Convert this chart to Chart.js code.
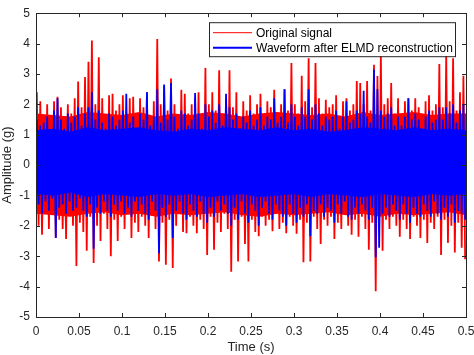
<!DOCTYPE html>
<html>
<head>
<meta charset="utf-8">
<script src="https://cdn.jsdelivr.net/npm/chart.js@4"></script>
<style>
  html, body { margin: 0; padding: 0; background: #fff; }
  #c { display: block; }
</style>
</head>
<body>
<canvas id="c" width="474" height="355"></canvas>
<script>
// ---- Data ----
const binWidth = 0.004;  // seconds per peak/trough bin
const bodyStep = 0.02;   // seconds per solid-body level reading
const xTicks = [0, 0.05, 0.1, 0.15, 0.2, 0.25, 0.3, 0.35, 0.4, 0.45, 0.5];
const yTicks = [-5, -4, -3, -2, -1, 0, 1, 2, 3, 4, 5];
const seriesLabels = ["Original signal", "Waveform after ELMD reconstruction"];

// Original signal: positive and negative peaks per bin
const origHigh = [
  2.4, 2.1, 1.5, 2.0, 1.3, 2.1, 2.25, 1.9, 1.2, 2.0,
  1.7, 2.2, 2.75, 1.9, 2.9, 3.4, 4.1, 2.0, 3.55, 2.2,
  1.6, 2.3, 2.35, 1.8, 2.0, 2.3, 1.7, 2.2, 2.25, 1.6,
  2.2, 1.9, 2.4, 1.6, 2.1, 4.15, 2.0, 2.6, 1.8, 2.85,
  2.0, 1.6, 2.48, 2.35, 1.7, 2.0, 2.2, 2.4, 1.6, 3.2,
  2.0, 2.4, 1.8, 3.12, 1.7, 2.2, 3.12, 1.9, 2.4, 1.5,
  2.1, 1.8, 2.3, 1.7, 2.0, 2.35, 1.6, 2.1, 1.9, 2.48,
  1.7, 2.0, 2.5, 1.8, 3.36, 2.0, 1.7, 2.94, 2.1, 3.52,
  1.9, 3.36, 2.2, 1.7, 2.15, 1.9, 2.0, 2.3, 1.6, 2.1,
  2.2, 1.8, 2.0, 2.77, 2.7, 2.0, 2.77, 1.8, 3.3, 2.93,
  3.63, 2.0, 2.2, 2.7, 1.7, 2.2, 1.6, 2.1, 2.2, 1.8,
  2.2, 1.9, 1.6, 2.1, 2.3, 1.8, 2.0, 3.33, 1.9, 3.6,
  2.1, 3.52, 1.8, 2.4, 2.94
];
const origLow = [
  -2.0, -2.29, -1.6, -2.1, -1.5, -2.4, -1.8, -2.1, -2.43, -1.6,
  -2.0, -3.32, -1.9, -2.2, -2.82, -1.7, -3.22, -2.0, -2.5, -1.6,
  -2.1, -3.0, -1.8, -2.5, -1.7, -2.1, -1.6, -2.4, -1.9, -2.2,
  -1.7, -2.0, -2.4, -1.6, -2.1, -3.17, -1.9, -3.28, -1.8, -3.39,
  -2.0, -1.6, -2.2, -2.24, -1.7, -2.0, -2.24, -1.8, -2.1, -2.96,
  -1.7, -2.79, -1.9, -2.2, -1.6, -2.1, -3.51, -1.8, -3.17, -1.7,
  -2.6, -3.17, -1.8, -2.2, -2.34, -1.7, -2.0, -1.8, -2.18, -1.6,
  -2.1, -1.9, -2.24, -1.7, -2.0, -2.26, -1.8, -3.2, -1.9, -3.17,
  -1.7, -2.1, -2.6, -1.8, -2.0, -1.7, -2.43, -1.9, -2.1, -1.6,
  -2.0, -2.29, -1.8, -2.36, -1.7, -2.1, -2.79, -1.9, -4.15, -2.0,
  -2.82, -1.8, -2.1, -1.7, -2.0, -2.36, -1.8, -2.1, -2.43, -1.7,
  -2.0, -2.4, -1.8, -2.56, -1.9, -2.1, -1.7, -2.96, -1.8, -2.56,
  -2.0, -2.88, -1.9, -2.72, -3.1
];

// Reconstructed waveform: positive and negative peaks per bin
const recHigh = [
  1.5, 1.3, 1.4, 1.6, 1.1, 1.8, 2.2, 1.5, 1.2, 1.7,
  1.4, 1.6, 1.9, 1.3, 1.7, 1.9, 2.4, 1.5, 1.8, 1.4,
  1.2, 1.7, 1.6, 1.3, 1.5, 1.8, 2.35, 1.4, 1.6, 1.2,
  1.7, 1.5, 2.4, 1.3, 1.6, 2.5, 1.4, 2.65, 1.5, 2.7,
  1.6, 1.2, 1.8, 1.7, 1.3, 1.5, 2.37, 1.7, 1.2, 2.0,
  1.6, 1.8, 1.4, 2.0, 1.3, 2.35, 1.9, 1.5, 1.7, 1.2,
  1.6, 1.4, 1.8, 1.3, 1.5, 1.9, 1.3, 1.6, 1.5, 2.2,
  1.4, 1.6, 2.5, 1.4, 2.0, 1.6, 1.3, 1.9, 1.6, 2.5,
  1.5, 2.0, 1.7, 1.3, 1.6, 1.5, 1.6, 1.8, 1.2, 1.6,
  2.1, 1.4, 1.5, 1.8, 1.7, 2.45, 1.6, 1.4, 3.15, 2.5,
  1.8, 1.6, 1.7, 1.9, 1.3, 1.6, 1.3, 1.6, 2.2, 1.5,
  1.7, 1.5, 1.2, 1.6, 1.8, 1.4, 1.5, 1.9, 1.5, 1.9,
  1.7, 2.0, 1.4, 1.8, 2.0
];
const recLow = [
  -1.3, -1.6, -1.2, -1.5, -1.1, -2.4, -1.4, -1.3, -1.6, -1.2,
  -1.5, -1.4, -1.1, -1.5, -1.7, -1.3, -2.75, -1.4, -1.6, -1.2,
  -1.5, -1.7, -1.3, -1.5, -1.2, -1.6, -1.4, -1.7, -1.2, -1.5,
  -1.3, -1.6, -1.8, -1.2, -1.5, -2.9, -1.4, -1.7, -1.3, -2.4,
  -1.5, -1.2, -1.6, -1.8, -1.3, -1.5, -1.7, -1.2, -1.6, -1.9,
  -1.4, -1.7, -1.2, -1.5, -1.3, -1.6, -2.0, -1.4, -1.8, -1.2,
  -1.6, -1.9, -1.3, -1.5, -2.0, -1.4, -1.2, -1.6, -1.8, -1.3,
  -1.5, -1.7, -2.0, -1.3, -1.6, -1.9, -1.4, -1.7, -1.3, -2.34,
  -1.5, -1.6, -1.3, -1.7, -1.4, -1.5, -1.9, -1.3, -1.6, -1.2,
  -1.7, -1.8, -1.4, -1.6, -1.3, -1.5, -1.8, -1.4, -3.03, -2.72,
  -1.6, -1.4, -1.7, -1.3, -1.5, -1.8, -1.3, -1.6, -1.9, -1.4,
  -1.6, -1.7, -1.3, -1.5, -1.7, -1.2, -1.6, -1.8, -1.4, -1.7,
  -1.3, -1.9, -1.5, -1.6, -1.8
];

// Levels up to which each trace looks solid (dense oscillation), every 0.02 s
const origBodyTop = [1.7, 1.65, 1.6, 1.75, 1.7, 1.65, 1.75, 1.6, 1.7, 1.65, 1.75, 1.7, 1.6,
                     1.7, 1.75, 1.7, 1.65, 1.7, 1.6, 1.75, 1.65, 1.7, 1.75, 1.65, 1.7, 1.7];
const origBodyBottom = [-1.6, -1.65, -1.7, -1.6, -1.55, -1.65, -1.6, -1.7, -1.6, -1.65, -1.6, -1.55, -1.65,
                        -1.7, -1.6, -1.65, -1.6, -1.55, -1.65, -1.6, -1.7, -1.6, -1.65, -1.6, -1.55, -1.65];
const recBodyTop = [1.15, 1.2, 1.1, 1.25, 1.15, 1.2, 1.25, 1.15, 1.1, 1.2, 1.15, 1.25, 1.2,
                    1.15, 1.25, 1.15, 1.2, 1.1, 1.15, 1.25, 1.2, 1.15, 1.25, 1.15, 1.2, 1.15];
const recBodyBottom = [-0.95, -1.0, -0.9, -1.05, -0.95, -1.0, -1.05, -0.95, -1.0, -0.95, -1.05, -1.0, -0.95,
                       -1.05, -1.0, -0.95, -1.05, -0.95, -1.0, -1.05, -0.95, -1.0, -1.05, -0.95, -1.0, -0.95];

// Alternating peak/trough points: positive peak early in the bin, negative late
function buildPoints(highs, lows) {
  const pts = [];
  for (let i = 0; i < highs.length; i++) {
    const t0 = i * binWidth;
    pts.push({ x: t0 + binWidth * 0.25, y: highs[i] });
    pts.push({ x: t0 + binWidth * 0.75, y: lows[i] });
  }
  return pts;
}
function buildLevel(levels) {
  return levels.map((v, k) => ({ x: k * bodyStep, y: v }));
}

const RED = "rgb(255,0,0)";
const BLUE = "rgb(0,0,255)";
const AXIS = "#262626";
const FONT = "Arial, 'Liberation Sans', Helvetica, sans-serif";

// Box + inward tick marks on all four sides (MATLAB style)
const boxTicks = {
  id: "boxTicks",
  afterDraw(chart) {
    const { ctx, chartArea: a, scales } = chart;
    ctx.save();
    ctx.strokeStyle = AXIS;
    ctx.lineWidth = 1;
    ctx.beginPath();
    const L = 4;
    scales.x.ticks.forEach(t => {
      const px = Math.round(scales.x.getPixelForValue(t.value)) + 0.5;
      ctx.moveTo(px, a.bottom); ctx.lineTo(px, a.bottom - L);
      ctx.moveTo(px, a.top); ctx.lineTo(px, a.top + L);
    });
    scales.y.ticks.forEach(t => {
      const py = Math.round(scales.y.getPixelForValue(t.value)) + 0.5;
      ctx.moveTo(a.left, py); ctx.lineTo(a.left + L, py);
      ctx.moveTo(a.right, py); ctx.lineTo(a.right - L, py);
    });
    ctx.stroke();
    ctx.strokeRect(Math.round(a.left) + 0.5, Math.round(a.top) + 0.5,
                   Math.round(a.right - a.left), Math.round(a.bottom - a.top));
    ctx.restore();
  }
};

// Legend box inside the top-right corner of the plot
const innerLegend = {
  id: "innerLegend",
  afterDraw(chart) {
    const { ctx, chartArea: a } = chart;
    const ds = chart.data.datasets;
    const order = [0, 1];
    const x1 = a.right - 257, y1 = a.top + 9, w = 246, h = 34;
    ctx.save();
    ctx.fillStyle = "#fff";
    ctx.fillRect(x1, y1, w, h);
    ctx.strokeStyle = AXIS;
    ctx.lineWidth = 1;
    ctx.strokeRect(x1 + 0.5, y1 + 0.5, w, h);
    ctx.font = "12px " + FONT;
    ctx.textBaseline = "middle";
    ctx.textAlign = "left";
    order.forEach((idx, k) => {
      const y = y1 + 10 + k * 15;
      ctx.strokeStyle = ds[idx].borderColor;
      ctx.lineWidth = idx === 1 ? 2 : 1;
      ctx.beginPath();
      ctx.moveTo(x1 + 4, y + 0.5);
      ctx.lineTo(x1 + 43, y + 0.5);
      ctx.stroke();
      ctx.fillStyle = "#000";
      ctx.fillText(ds[idx].label, x1 + 47, y + 1);
    });
    ctx.restore();
  }
};

const bodyStyle = (color, fill, order) => ({
  borderWidth: 0,
  borderColor: "rgba(0,0,0,0)",
  backgroundColor: color,
  pointRadius: 0,
  tension: 0,
  fill,
  order
});

new Chart(document.getElementById("c"), {
  type: "line",
  data: {
    datasets: [
      {
        label: seriesLabels[0],
        data: buildPoints(origHigh, origLow),
        borderColor: RED,
        borderWidth: 1.8,
        pointRadius: 0,
        tension: 0,
        fill: false,
        order: 5
      },
      {
        label: seriesLabels[1],
        data: buildPoints(recHigh, recLow),
        borderColor: BLUE,
        borderWidth: 1.8,
        pointRadius: 0,
        tension: 0,
        fill: false,
        order: 3
      },
      Object.assign({ label: "orig body top", data: buildLevel(origBodyTop) }, bodyStyle(RED, "+1", 6)),
      Object.assign({ label: "orig body bottom", data: buildLevel(origBodyBottom) }, bodyStyle(RED, false, 6)),
      Object.assign({ label: "rec body top", data: buildLevel(recBodyTop) }, bodyStyle(BLUE, "+1", 4)),
      Object.assign({ label: "rec body bottom", data: buildLevel(recBodyBottom) }, bodyStyle(BLUE, false, 4))
    ]
  },
  options: {
    responsive: false,
    animation: false,
    devicePixelRatio: 1,
    layout: { padding: { top: 4, right: 0, left: 0, bottom: 0 } },
    plugins: {
      legend: { display: false },
      tooltip: { enabled: false }
    },
    scales: {
      x: {
        type: "linear",
        min: 0,
        max: 0.5,
        afterBuildTicks: s => { s.ticks = xTicks.map(v => ({ value: v })); },
        afterFit: s => { s.height = 38; s.paddingRight = 8; s.paddingLeft = 0; },
        grid: { display: false, drawTicks: false },
        border: { display: false },
        ticks: {
          padding: 7,
          color: AXIS,
          font: { size: 12, family: FONT },
          maxRotation: 0,
          callback: v => String(v)
        },
        title: {
          display: true,
          text: "Time (s)",
          color: AXIS,
          font: { size: 13, family: FONT },
          padding: { top: 0, bottom: 0 }
        }
      },
      y: {
        type: "linear",
        min: -5,
        max: 5,
        afterBuildTicks: s => { s.ticks = yTicks.map(v => ({ value: v })); },
        afterFit: s => { s.width = 36; },
        grid: { display: false, drawTicks: false },
        border: { display: false },
        ticks: {
          padding: 6,
          color: AXIS,
          font: { size: 12, family: FONT },
          callback: v => String(v)
        },
        title: {
          display: true,
          text: "Amplitude (g)",
          color: AXIS,
          font: { size: 13, family: FONT },
          padding: { top: 0, bottom: 1 }
        }
      }
    }
  },
  plugins: [boxTicks, innerLegend]
});
</script>
</body>
</html>
